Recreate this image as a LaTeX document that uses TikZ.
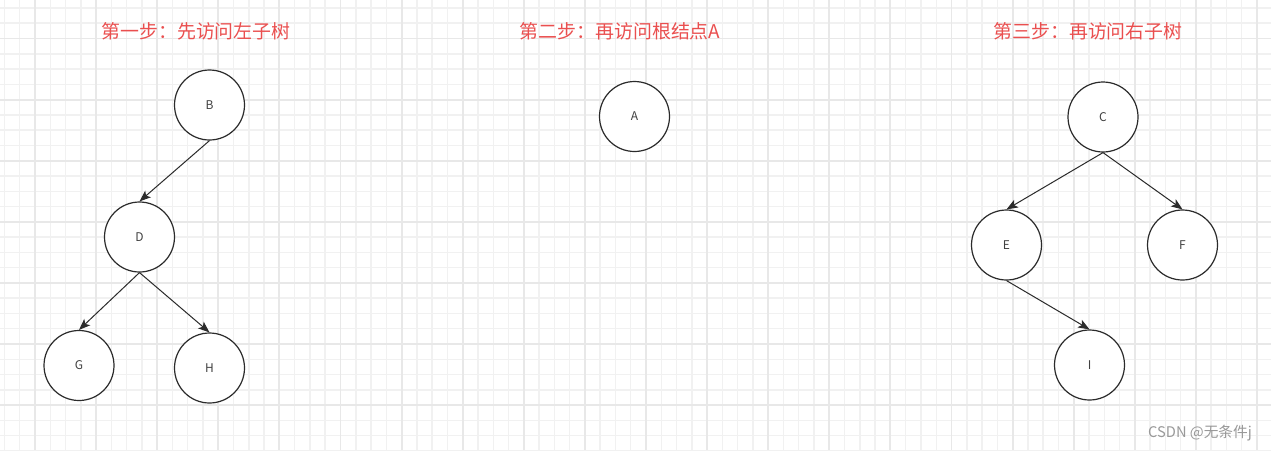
\documentclass[tikz,border=0pt]{standalone}
\usepackage{fontspec}
\setmainfont{Noto Sans CJK SC}
\usepackage{tikz}
\usetikzlibrary{arrows.meta}

\definecolor{gridMinor}{HTML}{F1F1F1}
\definecolor{gridMajor}{HTML}{E8E8E8}
\definecolor{lblRed}{HTML}{EA4F4F}
\definecolor{lineDark}{HTML}{2B2B2B}

\tikzset{
	treeNode/.style={circle, draw=lineDark, line width=0.9pt, fill=white, minimum size=52.5pt, inner sep=0pt, font=\fontsize{9}{10}\selectfont, text=black!75},
	treeEdge/.style={-{Stealth[length=8.5pt,width=6.5pt,inset=2pt]}, line width=0.75pt, draw=lineDark},
	lblStep/.style={text=lblRed, font=\fontsize{14.2}{16}\selectfont}
}

\begin{document}
\begin{tikzpicture}[x=0.75pt,y=-0.75pt]
				
				\useasboundingbox (0,0) rectangle (1271,450);
				\fill[white] (0,0) rectangle (1271,450);
				
				% grid
				\foreach \i in {0,...,83} {
					\draw[gridMinor, line width=1.1pt] ({4.45+15.275*\i},0) -- ({4.45+15.275*\i},450);
				}
				\foreach \i in {0,...,29} {
					\draw[gridMinor, line width=1.1pt] (0,{7.95+15.275*\i}) -- (1271,{7.95+15.275*\i});
				}
				\foreach \i in {0,...,20} {
					\draw[gridMajor, line width=1.4pt] ({35+61.1*\i},0) -- ({35+61.1*\i},450);
				}
				\foreach \i in {0,...,6} {
					\draw[gridMajor, line width=1.4pt] (0,{38.5+61.1*\i}) -- (1271,{38.5+61.1*\i});
				}
				
				\node[lblStep] (lblStepOne) at (196,31) {第一步：先访问左子树};
				\node[lblStep] (lblStepTwo) at (620,31) {第二步：再访问根结点A};
				\node[lblStep] (lblStepThree) at (1088,31) {第三步：再访问右子树};
				
				% left subtree
				\node[treeNode] (B) at (209.5,105) {B};
				\node[treeNode] (D) at (139.5,237) {D};
				\node[treeNode] (G) at (79,365.5) {G};
				\node[treeNode] (H) at (209.5,368) {H};
				\draw[treeEdge] (B.south) -- (D.north);
				\draw[treeEdge] (D.south) -- (G.north);
				\draw[treeEdge] (D.south) -- (H.north);
				
				% root
				\node[treeNode] (A) at (634.5,116.5) {A};
				
				% right subtree
				\node[treeNode] (C) at (1103,117) {C};
				\node[treeNode] (E) at (1006.5,245) {E};
				\node[treeNode] (F) at (1182.5,245) {F};
				\node[treeNode] (I) at (1089.5,365) {I};
				\draw[treeEdge] (C.south) -- (E.north);
				\draw[treeEdge] (C.south) -- (F.north);
				\draw[treeEdge] (E.south) -- (I.north);
				
				\node[text=black!40, font=\fontsize{11}{13}\selectfont] (lblMark) at (1200,433) {CSDN @无条件j};
				
\end{tikzpicture}
\end{document}
